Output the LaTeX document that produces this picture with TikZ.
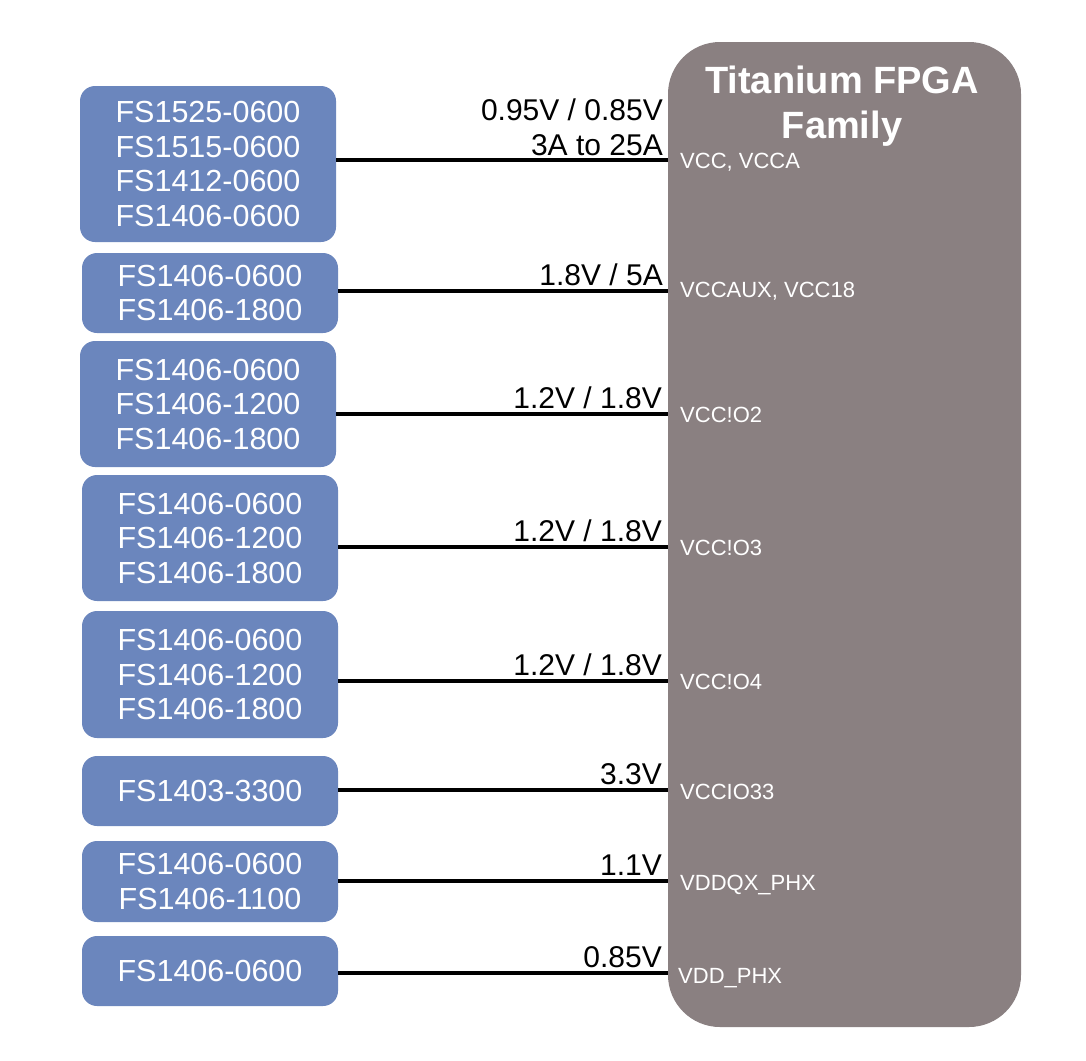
\documentclass[tikz,border=0pt]{standalone}
\usepackage{fontspec}
\setmainfont{Liberation Sans}
\definecolor{boxblue}{HTML}{6B86BD}
\definecolor{fpgagrey}{HTML}{8A8081}
\begin{document}
\begin{tikzpicture}[x=1pt,y=-1pt,
  src/.style={draw=none,fill=boxblue,rounded corners=15pt,minimum width=256pt,inner sep=0pt,
    text=white,align=center,font=\fontsize{30.5}{34.5}\selectfont},
  volt/.style={anchor=base east,inner sep=0pt,align=right,font=\fontsize{30}{35}\selectfont},
  pin/.style={anchor=base west,inner sep=0pt,text=white,font=\fontsize{22}{26}\selectfont},
  wire/.style={line width=4.5pt,black}]
\useasboundingbox (0,0) rectangle (1086,1060);
% FPGA block
\node[draw=none,fill=fpgagrey,rounded corners=52pt,minimum width=353pt,minimum height=985pt,inner sep=0pt] (fpga) at (844.5,534.5) {};
\node[text=white,align=center,inner sep=0pt,anchor=base,font=\fontsize{38}{45}\bfseries\selectfont] (title) at (842,138) {Titanium FPGA\\Family};
% source boxes
\node[src,minimum height=156pt] (b1) at (208,164) {FS1525-0600\\FS1515-0600\\FS1412-0600\\FS1406-0600};
\node[src,minimum height=80pt] (b2) at (210,293) {FS1406-0600\\FS1406-1800};
\node[src,minimum height=126pt] (b3) at (208,404) {FS1406-0600\\FS1406-1200\\FS1406-1800};
\node[src,minimum height=126pt] (b4) at (210,538) {FS1406-0600\\FS1406-1200\\FS1406-1800};
\node[src,minimum height=127pt] (b5) at (210,674.5) {FS1406-0600\\FS1406-1200\\FS1406-1800};
\node[src,minimum height=70pt] (b6) at (210,791) {FS1403-3300};
\node[src,minimum height=81pt] (b7) at (210,881.5) {FS1406-0600\\FS1406-1100};
\node[src,minimum height=70pt] (b8) at (210,971) {FS1406-0600};
% pin anchors on the FPGA edge
\coordinate (p1) at (668,160);
\coordinate (p2) at (668,291);
\coordinate (p3) at (668,414);
\coordinate (p4) at (668,547);
\coordinate (p5) at (668,681);
\coordinate (p6) at (668,790);
\coordinate (p7) at (668,881);
\coordinate (p8) at (668,973);
% wires
\draw[wire] (b1.east |- p1) -- (p1);
\draw[wire] (b2.east |- p2) -- (p2);
\draw[wire] (b3.east |- p3) -- (p3);
\draw[wire] (b4.east |- p4) -- (p4);
\draw[wire] (b5.east |- p5) -- (p5);
\draw[wire] (b6.east |- p6) -- (p6);
\draw[wire] (b7.east |- p7) -- (p7);
\draw[wire] (b8.east |- p8) -- (p8);
% voltage labels
\node[volt] (v1) at (663,155) {0.95V / 0.85V\\3A to 25A};
\node[volt] (v2) at (663,285) {1.8V / 5A};
\node[volt] (v3) at (662,408) {1.2V / 1.8V};
\node[volt] (v4) at (662,541) {1.2V / 1.8V};
\node[volt] (v5) at (662,675) {1.2V / 1.8V};
\node[volt] (v6) at (662,784) {3.3V};
\node[volt] (v7) at (662,875) {1.1V};
\node[volt] (v8) at (662,967) {0.85V};
% pin names
\node[pin] (n1) at (680,168) {VCC, VCCA};
\node[pin] (n2) at (680,297) {VCCAUX, VCC18};
\node[pin] (n3) at (680,422) {VCC!O2};
\node[pin] (n4) at (680,555) {VCC!O3};
\node[pin] (n5) at (680,689) {VCC!O4};
\node[pin] (n6) at (680,799) {VCCIO33};
\node[pin] (n7) at (680,890) {VDDQX\_PHX};
\node[pin] (n8) at (678,983) {VDD\_PHX};
\end{tikzpicture}
\end{document}
